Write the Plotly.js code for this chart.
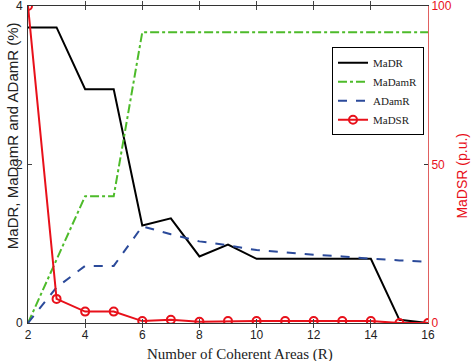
<!DOCTYPE html>
<html><head><meta charset="utf-8">
<script src="https://cdn.plot.ly/plotly-3.0.1.min.js"></script>
<style>html,body{margin:0;padding:0;background:#fff}#c{width:474px;height:361px}</style>
</head><body><div id="c"></div>
<script>
const areas = [2,3,4,5,6,7,8,9,10,11,12,13,14,15,16];
const madr   = [3.73,3.73,2.95,2.95,1.23,1.32,0.84,0.99,0.81,0.81,0.81,0.81,0.81,0.04,0.0];
const madamr = [0.0,0.8,1.6,1.6,3.67,3.67,3.67,3.67,3.67,3.67,3.67,3.67,3.67,3.67,3.67];
const adamr  = [0.0,0.45,0.72,0.72,1.22,1.12,1.03,0.98,0.92,0.89,0.86,0.84,0.81,0.79,0.77];
const madsr  = [100,7.6,3.6,3.6,0.6,1.0,0.4,0.6,0.6,0.6,0.6,0.6,0.6,0.0,0.0];
const xTicks = [2,4,6,8,10,12,14,16];
const yTicks = [0,2,4];
const y2Ticks = [0,50,100];
const xTitle = 'Number of Coherent Areas (R)';
const yTitle = 'MaDR, MaDamR and ADamR (%)';
const y2Title = 'MaDSR (p.u.)';

const traces = [
 {x:areas,y:madr,name:'MaDR',mode:'lines',line:{color:'#000',width:2}},
 {x:areas,y:madamr,name:'MaDamR',mode:'lines',line:{color:'#4dbb2a',width:2,dash:'dashdot'}},
 {x:areas,y:adamr,name:'ADamR',mode:'lines',line:{color:'#2b4a9a',width:2,dash:'dash'}},
 {x:areas,y:madsr,name:'MaDSR',mode:'lines+markers',yaxis:'y2',
  line:{color:'#e8101a',width:2},marker:{symbol:'circle-open',size:8,color:'#e8101a',line:{width:2}}}
];
const tf = {family:'Liberation Sans, Arial',size:12,color:'#222'};
const layout = {
 width:474,height:361,margin:{l:28,r:46,t:6,b:38},
 paper_bgcolor:'#fff',plot_bgcolor:'#fff',showlegend:true,
 xaxis:{range:[2,16],tickvals:xTicks,ticks:'inside',ticklen:4,showline:true,linecolor:'#333',
   mirror:'allticks',showgrid:false,zeroline:false,tickfont:tf,ticklabeloverflow:'allow',ticklabelstandoff:1},
 yaxis:{range:[0,4],tickvals:yTicks,ticks:'inside',ticklen:4,showline:true,linecolor:'#333',
   showgrid:false,zeroline:false,tickfont:tf,ticklabeloverflow:'allow',ticklabelstandoff:2},
 yaxis2:{range:[0,100],tickvals:y2Ticks,overlaying:'y',side:'right',ticks:'inside',ticklen:4,
   showline:true,linecolor:'#e06060',tickcolor:'#333',showgrid:false,zeroline:false,ticklabeloverflow:'allow',
   tickfont:{family:'Liberation Sans, Arial',size:12,color:'#e8101a'}},
 legend:{x:0.76,y:0.87,xanchor:'left',yanchor:'top',bgcolor:'#fff',bordercolor:'#000',borderwidth:1,
   font:{family:'Liberation Serif, Times New Roman',size:11,color:'#222'},tracegroupgap:0,itemwidth:30},
 annotations:[
  {text:xTitle,xref:'paper',yref:'paper',x:0.53,y:-0.1,xanchor:'center',yanchor:'middle',showarrow:false,
   font:{family:'Liberation Serif, Times New Roman',size:15,color:'#222'}},
  {text:yTitle,xref:'paper',yref:'paper',x:-0.037,y:0.59,xanchor:'center',yanchor:'middle',textangle:-90,showarrow:false,
   font:{family:'Liberation Sans, Arial',size:15,color:'#222'}},
  {text:y2Title,xref:'paper',yref:'paper',x:1.085,y:0.465,xanchor:'center',yanchor:'middle',textangle:-90,showarrow:false,
   font:{family:'Liberation Sans, Arial',size:14,color:'#e8101a'}}
 ]
};
Plotly.newPlot('c',traces,layout,{staticPlot:true,displayModeBar:false});
</script></body></html>
